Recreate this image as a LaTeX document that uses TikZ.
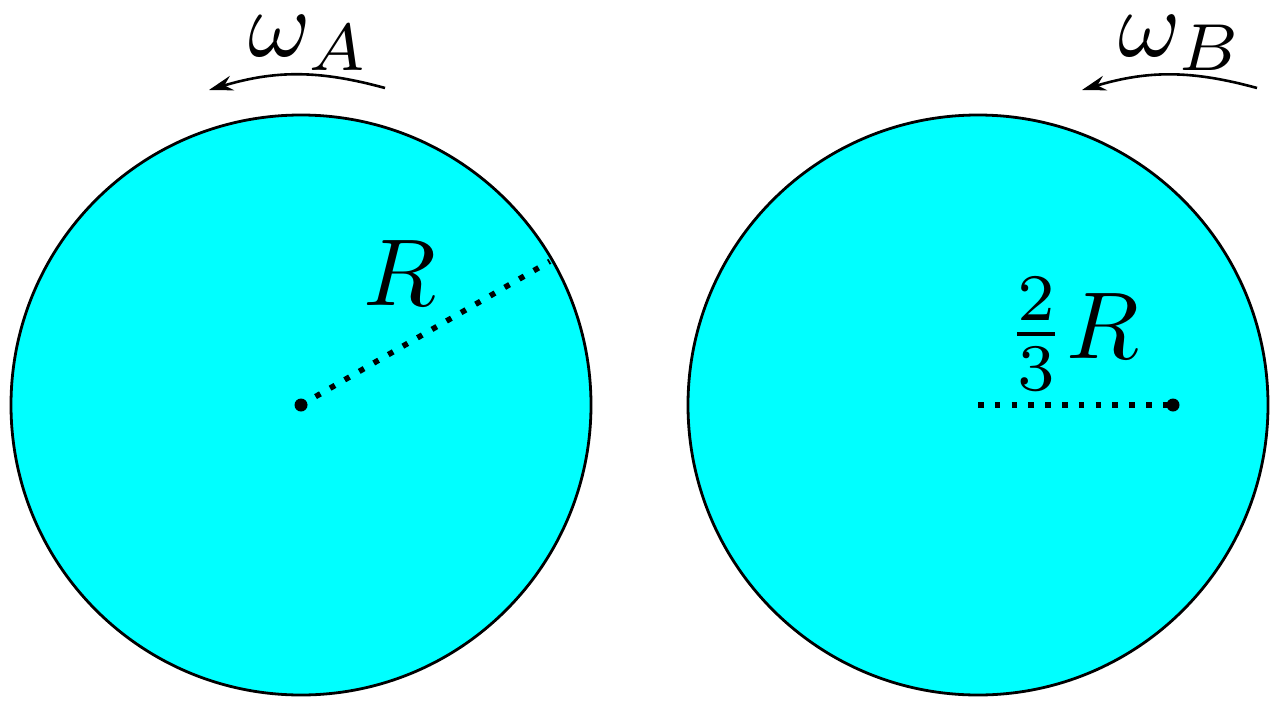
\documentclass[tikz,border=0pt]{standalone}
\usetikzlibrary{arrows.meta}
\definecolor{diskfill}{RGB}{0,255,255}
\begin{document}
\begin{tikzpicture}[x=0.5pt,y=-0.5pt,
  disk/.style={circle,draw=black,fill=diskfill,line width=1.4pt,minimum size=290pt,inner sep=0pt},
  radline/.style={line width=2.8pt,dash pattern=on 2.8pt off 5.6pt},
  cdot/.style={circle,fill=black,minimum size=6.5pt,inner sep=0pt},
  spin/.style={line width=1.3pt,-{Stealth[length=12pt,width=7.5pt,inset=4pt]}},
  lab/.style={inner sep=0pt,anchor=base west,scale=4.75}]
\useasboundingbox (0,0) rectangle (1280,707);
% disks
\node[disk] (A) at (301,405) {};
\node[disk] (B) at (978,405) {};
% radius A
\node[cdot] (ca) at (301,405) {};
\coordinate (ea) at (A.30);
\draw[radline,shorten >=2pt] (ca.center) -- (ea);
\node[cdot] (cb) at (1173,405) {};
\coordinate (sb) at (978,405);
\draw[radline] (sb) -- (cb.center);
% labels
\node[lab] (lr) at (362,305) {$R$};
\node[lab] (lf) at (1004,358) {$\frac{2}{3}R$};
\node[lab] (wa) at (247,56) {$\omega_A$};
\node[lab] (wb) at (1117,56) {$\omega_B$};
% spin arrows
\coordinate (a1) at (385,88);
\coordinate (a2) at (209,90);
\coordinate (b1) at (1257,88);
\coordinate (b2) at (1082,90);
\draw[spin] (a1) to[bend right=16] (a2);
\draw[spin] (b1) to[bend right=16] (b2);
\end{tikzpicture}
\end{document}
